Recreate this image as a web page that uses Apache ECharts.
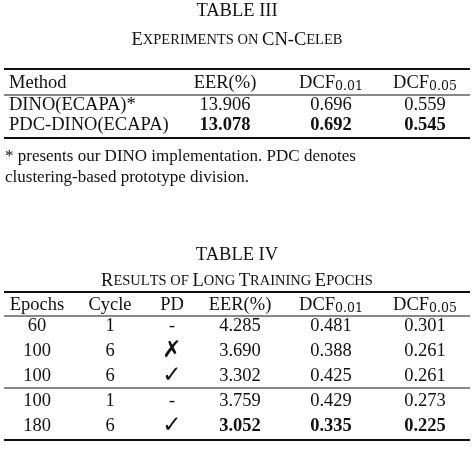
<!DOCTYPE html>
<html><head><meta charset="utf-8">
<script src="https://cdn.jsdelivr.net/npm/echarts@6/dist/echarts.min.js"></script>
<style>html,body{margin:0;background:#fff}#c{width:474px;height:449px}</style>
</head><body><div id="c"></div>
<script>
const t3Header = ['Method','EER(%)','DCF|0.01','DCF|0.05'];
const t3Rows = [
  ['DINO(ECAPA)*','13.906','0.696','0.559'],
  ['PDC-DINO(ECAPA)','13.078','0.692','0.545']
];
const t3Bold = [false, true];
const t3Note = ['* presents our DINO implementation. PDC denotes','clustering-based prototype division.'];
const t4Header = ['Epochs','Cycle','PD','EER(%)','DCF|0.01','DCF|0.05'];
const t4Rows = [
  ['60','1','-','4.285','0.481','0.301'],
  ['100','6','✗','3.690','0.388','0.261'],
  ['100','6','✓','3.302','0.425','0.261'],
  ['100','1','-','3.759','0.429','0.273'],
  ['180','6','✓','3.052','0.335','0.225']
];
const t4Bold = [false,false,false,false,true];

const F = 'Liberation Serif, Times New Roman, serif';
const g = [];
function txt(x,y,s,opt){
  opt=opt||{};
  let fs=opt.fs||18.5;
  let text=s, sub=s.indexOf('|')>=0;
  if(sub){const p=s.split('|');text='{m|'+p[0]+'}{s|'+p[1]+'}';}
  const sym=(s==='✓'||s==='✗');
  if(sym) fs=23;
  g.push({type:'text',x:x,y:y,style:{text:text,
    rich:{m:{fontFamily:F,fontSize:fs,lineHeight:20},s:{fontFamily:'DejaVu Serif',fontSize:12.5,lineHeight:20,padding:[8,0,0,0]}},
    fontFamily:sym?'DejaVu Sans':F,fontSize:fs,
    fontWeight:opt.bold?'bold':'normal',fill:'#111',align:opt.align||'center',verticalAlign:'middle'}});
}
function rule(y,w){g.push({type:'line',shape:{x1:4,y1:y,x2:470,y2:y},style:{stroke:'#111',lineWidth:w}});}
function smallCaps(x,y,words){
  let parts=words.map(w=>{
    if(w==='on'||w==='of') return '{b|'+w.toUpperCase()+'}';
    return w.split('').map(c=>(/[A-Z\-]/.test(c))?'{a|'+c+'}':'{b|'+c.toUpperCase()+'}').join('');
  });
  g.push({type:'text',x:x,y:y,style:{text:parts.join('{b| }'),align:'center',verticalAlign:'middle',fill:'#111',
    rich:{a:{fontFamily:F,fontSize:18.5},b:{fontFamily:F,fontSize:14.5}}}});
}
// Table III
txt(237,11,'TABLE III');
smallCaps(237,40,['Experiments','on','CN-Celeb']);
rule(69,2);
const c3=[{x:9,a:'left'},{x:225},{x:331},{x:425}];
t3Header.forEach((h,i)=>txt(c3[i].x,83,h,{align:c3[i].a}));
rule(95,1);
t3Rows.forEach((r,j)=>r.forEach((v,i)=>txt(c3[i].x,105+j*20,v,{align:c3[i].a,bold:t3Bold[j]&&i>0})));
rule(138,2);
t3Note.forEach((n,j)=>txt(5,157+j*21,n,{align:'left',fs:17}));
// Table IV
txt(237,255,'TABLE IV');
smallCaps(237,281,['Results','of','Long','Training','Epochs']);
rule(292,2);
const c4=[37,110,172,240,331,425];
t4Header.forEach((h,i)=>txt(c4[i],305,h));
rule(316,1);
const ys=[326,351,376,401,426];
t4Rows.forEach((r,j)=>r.forEach((v,i)=>txt(c4[i],ys[j],v,{bold:t4Bold[j]&&i>2})));
rule(388,1);
rule(440,2);
const chart=echarts.init(document.getElementById('c'));
chart.setOption({animation:false,graphic:g});
</script></body></html>
